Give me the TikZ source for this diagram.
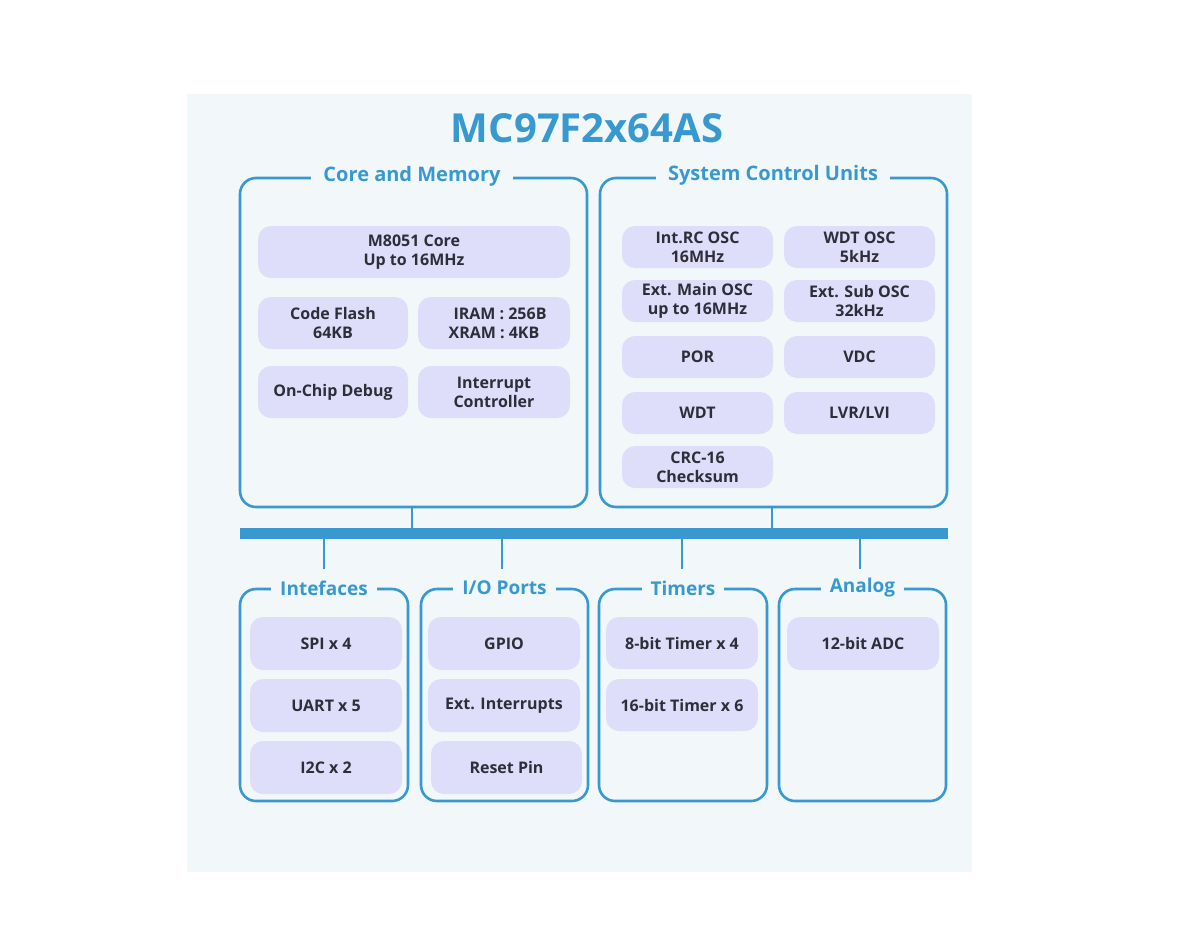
\documentclass[tikz,border=0pt]{standalone}
\usepackage{fontspec}
\setmainfont{Open Sans}
\definecolor{bl}{HTML}{3799CF}
\definecolor{bg}{HTML}{F2F7FA}
\definecolor{lav}{HTML}{DEDEFA}
\definecolor{tx}{HTML}{2E2E3A}
\begin{document}
\begin{tikzpicture}[x=1pt,y=-1pt,
 frame/.style={draw=bl,line width=2.6pt,rounded corners=16pt},
 ftitle/.style={fill=bg,text=bl,font=\bfseries\fontsize{20}{24}\selectfont,inner xsep=12pt,inner ysep=2pt},
 blk/.style={fill=lav,rounded corners=13pt,text=tx,font=\bfseries\fontsize{16}{19}\selectfont,align=center},
 wire/.style={draw=bl,line width=2.6pt}]
\useasboundingbox (0,0) rectangle (1191,924);
\fill[bg] (187,94) rectangle (972,872);
\node[text=bl,font=\bfseries\fontsize{40}{44}\selectfont] (title) at (587,128) {MC97F2x64AS};
% frames
\draw[frame] (240,178) rectangle (587,507);
\node[ftitle] (cm) at (412,176) {Core and Memory};
\draw[frame] (600,178) rectangle (947,507);
\node[ftitle] (scu) at (773,175) {System Control Units};
\foreach \a/\b/\t/\n in {240/408/Intefaces/if,421/588/{I/O Ports}/io,599/767/Timers/tm,779/946/Analog/an}{
 \draw[frame] (\a,589) rectangle (\b,801);
 \node[ftitle,font=\bfseries\fontsize{19}{22}\selectfont,inner xsep=9pt] (\n) at ({(\a+\b)/2},588) {\t};}
% bus
\fill[bl] (240,528) rectangle (948,539);
\coordinate (bt1) at (412,528); \coordinate (cmB) at (412,507);
\coordinate (bt2) at (772,528); \coordinate (scB) at (772,507);
\draw[wire] (cmB) -- (bt1); \draw[wire] (scB) -- (bt2);
\foreach \x in {324,502,682,860}{\draw[wire] (\x,538) -- (\x,569);}
\newcommand\bx[6]{\node[blk,minimum width=#3-#1,minimum height=#4-#2] (#5) at ({(#1+#3)/2},{(#2+#4)/2}) {#6};}
\bx{258}{226}{570}{278}{m8051}{M8051 Core\\Up to 16MHz}
\bx{258}{297}{408}{349}{flash}{Code Flash\\64KB}
\bx{418}{297}{570}{349}{ram}{\hspace*{12pt}IRAM : 256B\\XRAM : 4KB}
\bx{258}{366}{408}{418}{ocd}{On-Chip Debug}
\bx{418}{366}{570}{418}{intc}{Interrupt\\Controller}
\bx{622}{226}{773}{268}{rc}{Int.RC OSC\\16MHz}
\bx{784}{226}{935}{268}{wdo}{WDT OSC\\5kHz}
\bx{622}{280}{773}{322}{emo}{Ext. Main OSC\\up to 16MHz}
\bx{784}{280}{935}{322}{eso}{Ext. Sub OSC\\32kHz}
\bx{622}{336}{773}{378}{por}{POR}
\bx{784}{336}{935}{378}{vdc}{VDC}
\bx{622}{392}{773}{434}{wdt}{WDT}
\bx{784}{392}{935}{434}{lvr}{LVR/LVI}
\bx{622}{446}{773}{488}{crc}{CRC-16\\Checksum}
\bx{250}{617}{402}{670}{spi}{SPI x 4}
\bx{250}{679}{402}{732}{uart}{UART x 5}
\bx{250}{741}{402}{794}{i2c}{I2C x 2}
\bx{428}{617}{580}{670}{gpio}{GPIO}
\bx{428}{679}{580}{732}{exti}{Ext. Interrupts}
\bx{431}{741}{582}{794}{rst}{Reset Pin}
\bx{606}{617}{758}{669}{t8}{8-bit Timer x 4}
\bx{606}{679}{758}{731}{t16}{16-bit Timer x 6}
\bx{787}{617}{939}{670}{adc}{12-bit ADC}
\end{tikzpicture}
\end{document}
